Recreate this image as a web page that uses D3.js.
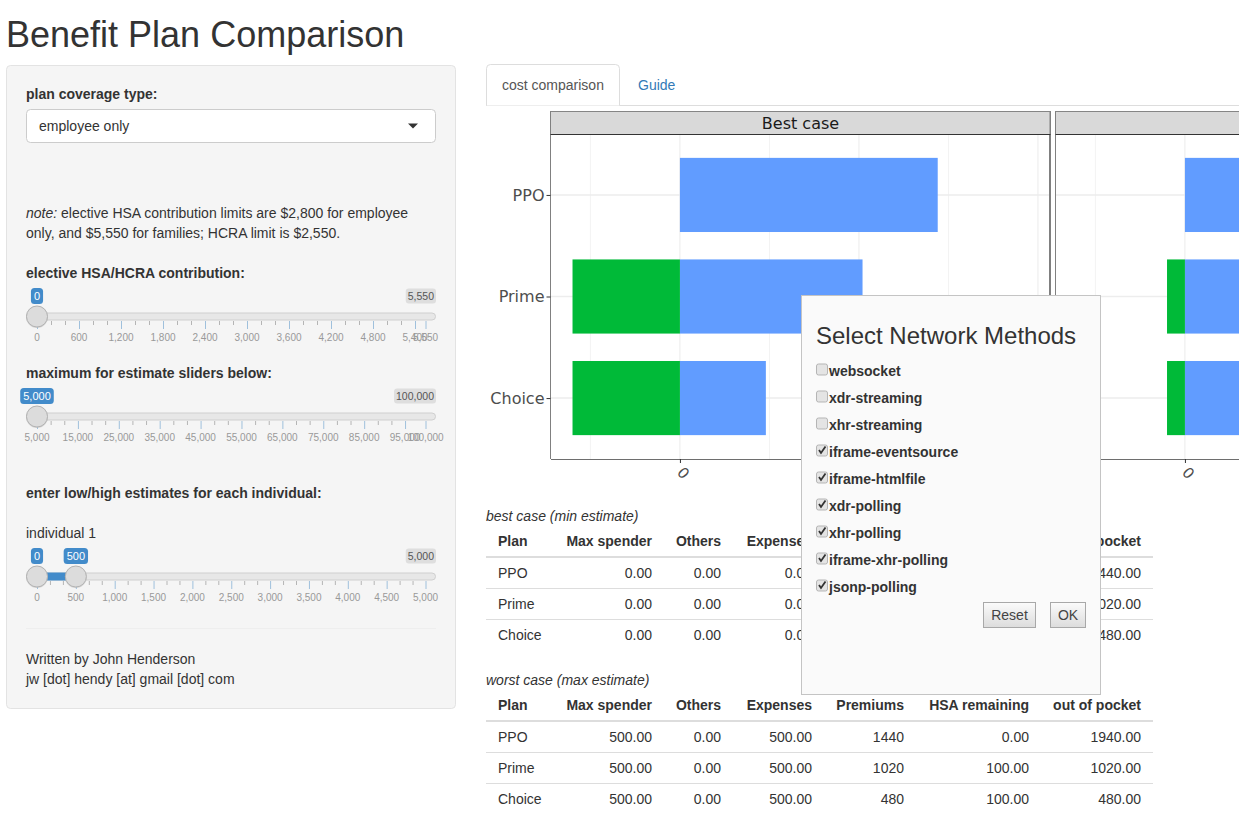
<!DOCTYPE html>
<html><head><meta charset="utf-8">
<script src="https://cdnjs.cloudflare.com/ajax/libs/d3/7.8.5/d3.min.js"></script>
<style>
html,body{margin:0;padding:0;background:#fff;overflow:hidden;width:1239px;height:825px}
svg{display:block;font-family:"Liberation Sans",Arial,sans-serif}
.gt text{font-family:"DejaVu Sans",sans-serif}
</style></head><body><svg id="c" width="1239" height="825"></svg>
<script>
const plans=["PPO","Prime","Choice"];
const facets=["Best case","Worst case"];
const bestBlue=[1440,1020,480];
const bestGreen=[0,-600,-600];
const worstBlue=[1940,1520,980];
const worstGreen=[0,-100,-100];
const xMajor=[0,1000,2000];
const xMinor=[-500,500,1500];
const xLabelled=[0];
const tableHead=["Plan","Max spender","Others","Expenses","Premiums","HSA remaining","out of pocket"];
const bestRows=[["PPO","0.00","0.00","0.00","1440","0.00","1440.00"],["Prime","0.00","0.00","0.00","1020","600.00","1020.00"],["Choice","0.00","0.00","0.00","480","600.00","480.00"]];
const worstRows=[["PPO","500.00","0.00","500.00","1440","0.00","1940.00"],["Prime","500.00","0.00","500.00","1020","100.00","1020.00"],["Choice","500.00","0.00","500.00","480","100.00","480.00"]];
const methods=["websocket","xdr-streaming","xhr-streaming","iframe-eventsource","iframe-htmlfile","xdr-polling","xhr-polling","iframe-xhr-polling","jsonp-polling"];
const methodChecked=[false,false,false,true,true,true,true,true,true];
const hsaMajor=[0,600,1200,1800,2400,3000,3600,4200,4800,5400,5550];
const maxMajor=[5000,15000,25000,35000,45000,55000,65000,75000,85000,95000,100000];
const indMajor=[0,500,1000,1500,2000,2500,3000,3500,4000,4500,5000];

const svg=d3.select("#c");
const fmt=d3.format(",");
function txt(p,s,x,y,o={}){
  return p.append("text").attr("x",x).attr("y",y).text(s)
   .attr("font-size",o.size||14).attr("fill",o.fill||"#333")
   .attr("font-weight",o.weight||null).attr("font-style",o.style||null)
   .attr("text-anchor",o.anchor||null);
}
function line(p,x1,y1,x2,y2,c,w=1){
  return p.append("line").attr("x1",x1).attr("y1",y1).attr("x2",x2).attr("y2",y2).attr("stroke",c).attr("stroke-width",w);
}
txt(svg,"Benefit Plan Comparison",6,47,{size:36});

/* sidebar */
const side=svg.append("g");
side.append("rect").attr("x",6.5).attr("y",65.5).attr("width",449).attr("height",643).attr("rx",4)
  .attr("fill","#f5f5f5").attr("stroke","#e3e3e3");
txt(side,"plan coverage type:",26,99,{weight:"bold"});
side.append("rect").attr("x",26.5).attr("y",109.5).attr("width",409).attr("height",33).attr("rx",4).attr("fill","#fff").attr("stroke","#ccc");
txt(side,"employee only",39,131);
side.append("path").attr("d","M408 123.5h10l-5 5z").attr("fill","#333");
const note=txt(side,"",26,218);
note.append("tspan").attr("font-style","italic").text("note:");
note.append("tspan").text(" elective HSA contribution limits are $2,800 for employee");
txt(side,"only, and $5,550 for families; HCRA limit is $2,550.",26,238);
txt(side,"elective HSA/HCRA contribution:",26,278,{weight:"bold"});
txt(side,"maximum for estimate sliders below:",26,378,{weight:"bold"});
txt(side,"enter low/high estimates for each individual:",26,498,{weight:"bold"});
txt(side,"individual 1",26,538);
line(side,26,628.5,436,628.5,"#eee");
txt(side,"Written by John Henderson",26,664);
txt(side,"jw [dot] hendy [at] gmail [dot] com",26,684);

function labelWidth(label,digit){
  return Array.from(label).reduce((s,c)=>s+(c===","?digit/2:digit),0);
}
function valueBadge(p,cx,y,label){
  const W=labelWidth(label,6.12)+6;
  p.append("rect").attr("x",cx-W/2).attr("y",y).attr("width",W).attr("height",16).attr("rx",3.5).attr("fill","#428bca");
  txt(p,label,cx,y+12,{size:11,fill:"#fff",anchor:"middle"});
}
function maxBadge(p,xr,y,label){
  const W=labelWidth(label,5.84)+4;
  p.append("rect").attr("x",xr-W).attr("y",y).attr("width",W).attr("height",15).attr("rx",3).attr("fill","#dedede");
  txt(p,label,xr-W/2,y+11.5,{size:10.5,fill:"#555",anchor:"middle"});
}
function slider(cy,major,vals){
  const g=svg.append("g");
  const x=d3.scaleLinear().domain([major[0],major[major.length-1]]).range([37,425.5]);
  g.append("rect").attr("x",26.5).attr("y",cy-3.5).attr("width",409).attr("height",7).attr("rx",3.5).attr("fill","#e7e7e7").attr("stroke","#cfcfcf");
  const a=g.append("g").attr("transform",`translate(0,${cy+4.5})`);
  a.selectAll("line.maj").data(major).join("line").attr("class","maj")
    .attr("x1",d=>x(d)+.5).attr("x2",d=>x(d)+.5).attr("y1",0).attr("y2",8).attr("stroke","#9fc0dc");
  const step=major[1]-major[0];
  const minors=[];
  major.slice(0,-1).forEach((d,i)=>{ if(major[i+1]-d===step){minors.push(d+step/3,d+2*step/3);} });
  a.selectAll("line.min").data(minors).join("line").attr("class","min")
    .attr("x1",d=>x(d)+.5).attr("x2",d=>x(d)+.5).attr("y1",0).attr("y2",4).attr("stroke","#b5b5b5");
  a.selectAll("text").data(major).join("text").attr("x",d=>x(d)).attr("y",20).attr("text-anchor","middle")
    .attr("font-size",10).attr("fill","#999").text(d=>fmt(d));
  if(vals.length>1){
    g.append("rect").attr("x",x(vals[0])).attr("y",cy-4).attr("width",x(vals[1])-x(vals[0])).attr("height",8).attr("fill","#428bca");
  }
  vals.forEach(v=>{
    g.append("circle").attr("cx",x(v)).attr("cy",cy+.5).attr("r",11).attr("fill","#b5b5b5").attr("opacity",.5);
    g.append("circle").attr("cx",x(v)).attr("cy",cy).attr("r",10.5).attr("fill","#dcdcdc").attr("stroke","#b3b3b3");
    valueBadge(g,x(v),cy-28.5,fmt(v));
  });
  maxBadge(g,436,cy-28,fmt(major[major.length-1]));
}
slider(316.5,hsaMajor,[0]);
slider(416.5,maxMajor,[5000]);
slider(576.5,indMajor,[0,500]);

/* tabs */
const tabs=svg.append("g");
line(tabs,486,105.5,1239,105.5,"#ddd");
tabs.append("path").attr("d","M486.5 105.5V68.5a4 4 0 0 1 4-4H615.5a4 4 0 0 1 4 4V105.5").attr("fill","#fff").attr("stroke","#ddd");
txt(tabs,"cost comparison",502,90,{fill:"#555"});
txt(tabs,"Guide",638,90,{fill:"#337ab7"});

/* chart */
const gt=svg.append("g").attr("class","gt");
const pTop=134,pBottom=459,panelW=500,stripH=23;
const panels=[{x0:550.5,name:facets[0],blue:bestBlue,green:bestGreen},{x0:1055.5,name:facets[1],blue:worstBlue,green:worstGreen}];
const y=d3.scalePoint().domain(plans).range([pTop,pBottom]).padding(0.6);
panels.forEach((P,pi)=>{
  const x=d3.scaleLinear().domain([-723,2070]).range([P.x0,P.x0+panelW]);
  const g=gt.append("g");
  g.append("rect").attr("x",P.x0).attr("y",pTop).attr("width",panelW).attr("height",pBottom-pTop).attr("fill","#fff");
  g.selectAll("line.minor").data(xMinor).join("line").attr("class","minor")
    .attr("x1",d=>x(d)).attr("x2",d=>x(d)).attr("y1",pTop).attr("y2",pBottom).attr("stroke","#f3f3f3");
  g.selectAll("line.major").data(xMajor).join("line").attr("class","major")
    .attr("x1",d=>x(d)).attr("x2",d=>x(d)).attr("y1",pTop).attr("y2",pBottom).attr("stroke","#ebebeb");
  g.selectAll("line.h").data(plans).join("line").attr("class","h")
    .attr("x1",P.x0).attr("x2",P.x0+panelW).attr("y1",d=>y(d)).attr("y2",d=>y(d)).attr("stroke","#ededed").attr("stroke-width",1.5);
  const bh=y.step()*0.73;
  g.selectAll("rect.blue").data(plans).join("rect").attr("class","blue")
    .attr("x",x(0)).attr("width",(d,i)=>x(P.blue[i])-x(0)).attr("y",d=>y(d)-bh/2).attr("height",bh).attr("fill","#619CFF");
  g.selectAll("rect.green").data(plans).join("rect").attr("class","green")
    .attr("x",(d,i)=>x(P.green[i])).attr("width",(d,i)=>x(0)-x(P.green[i])).attr("y",d=>y(d)-bh/2).attr("height",bh).attr("fill","#00BA38");
  // frame: grey sides, heavier right edge
  line(g,P.x0,111,P.x0,pBottom,"#808080",1);
  line(g,P.x0+panelW-.5,111,P.x0+panelW-.5,pBottom,"#808080",2);
  g.append("rect").attr("x",P.x0+.5).attr("y",111.5).attr("width",panelW-1.5).attr("height",stripH-.5).attr("fill","#d9d9d9");
  line(g,P.x0,111.5,P.x0+panelW,111.5,"#858585",1);
  line(g,P.x0,134.5,P.x0+panelW,134.5,"#333",1.2);
  if(P.x0+panelW/2<1239) txt(g,P.name,P.x0+panelW/2,129,{size:16,fill:"#1a1a1a",anchor:"middle"});
  const ax=g.append("g").attr("transform",`translate(0,${pBottom})`)
    .call(d3.axisBottom(x).tickValues(xLabelled).tickSizeInner(4).tickSizeOuter(0).tickFormat(d3.format("d")));
  ax.select(".domain").attr("stroke","#6e6e6e").attr("stroke-width",1.2);
  ax.selectAll(".tick line").attr("stroke","#333");
  ax.selectAll(".tick text").attr("font-size",15).attr("fill","#4d4d4d").attr("text-anchor","middle")
    .attr("y",0).attr("dy",0).attr("transform","translate(-1,17.5) rotate(48)").attr("font-family","DejaVu Sans");
  if(pi===0){
    const ay=g.append("g").attr("transform",`translate(${P.x0},0)`).call(d3.axisLeft(y).tickSize(4).tickPadding(2));
    ay.select(".domain").remove();
    ay.selectAll(".tick line").attr("stroke","#333");
    ay.selectAll(".tick text").attr("font-size",16).attr("fill","#4d4d4d").attr("font-family","DejaVu Sans");
  }
});

/* tables */
const colRight=[null,652,721,812,904,1029,1141];
function table(title,titleY,rows){
  const g=svg.append("g");
  txt(g,title,486,titleY,{style:"italic"});
  tableHead.forEach((h,i)=>{
    txt(g,h,i?colRight[i]:498,titleY+25,{weight:"bold",anchor:i?"end":"start"});
  });
  line(g,486,titleY+36,1153,titleY+36,"#ddd",2);
  rows.forEach((r,ri)=>{
    const by=titleY+57+ri*31;
    r.forEach((c,i)=>txt(g,c,i?colRight[i]:498,by,{anchor:i?"end":"start"}));
    if(ri<rows.length-1) line(g,486,by+10.5,1153,by+10.5,"#ddd");
  });
}
table("best case (min estimate)",521,bestRows);
table("worst case (max estimate)",685,worstRows);

/* modal */
const m=svg.append("g");
m.append("rect").attr("x",801.5).attr("y",295.5).attr("width",299).attr("height",399).attr("fill","#fafafa").attr("stroke","#c4c4c4");
txt(m,"Select Network Methods",816,344,{size:24});
const defs=svg.append("defs");
const grad=defs.append("linearGradient").attr("id","btn").attr("x1",0).attr("x2",0).attr("y1",0).attr("y2",1);
grad.append("stop").attr("offset",0).attr("stop-color","#fbfbfb");
grad.append("stop").attr("offset",1).attr("stop-color","#dcdcdc");
methods.forEach((name,i)=>{
  const by=376+i*27;
  m.append("rect").attr("x",816.5).attr("y",by-12).attr("width",11).attr("height",11).attr("rx",2)
    .attr("fill","#e4e4e4").attr("stroke","#b5b5b5");
  if(methodChecked[i]) m.append("path").attr("d",`M819 ${by-7}l2 3l4.5-6.5`).attr("fill","none").attr("stroke","#333").attr("stroke-width",1.8);
  txt(m,name,829,by,{weight:"bold"});
});
[["Reset",983.5,52],["OK",1050.5,35]].forEach(([s,bx,w])=>{
  m.append("rect").attr("x",bx).attr("y",602.5).attr("width",w).attr("height",25).attr("fill","url(#btn)").attr("stroke","#a8a8a8");
  txt(m,s,bx+w/2,620,{anchor:"middle",fill:"#444"});
});
</script></body></html>
